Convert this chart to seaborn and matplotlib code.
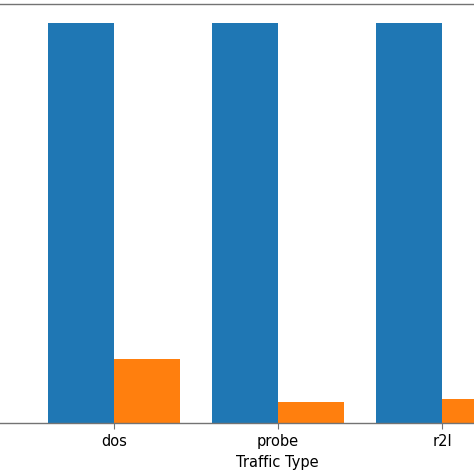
import numpy as np
import pandas as pd
import matplotlib
matplotlib.use("Agg")
import matplotlib.pyplot as plt
import seaborn as sns

# values (blue bars normalised to 1.0)
traffic_types = ["dos", "probe", "r2l"]
series_a = [1.0, 1.0, 1.0]
series_b = [0.160, 0.053, 0.060]
series_names = ["a", "b"]

df = pd.DataFrame({
    "Traffic Type": traffic_types * 2,
    "value": series_a + series_b,
    "series": [series_names[0]] * 3 + [series_names[1]] * 3,
})

fig = plt.figure(figsize=(4.74, 4.74), dpi=100)
# the reference is a crop: axes run past both side edges of the picture
left_px, right_px = -10, 524
ax_h = 419.8
ax = fig.add_axes([left_px / 474, 50.7 / 474, (right_px - left_px) / 474, ax_h / 474])

sns.barplot(data=df, x="Traffic Type", y="value", hue="series",
            palette=["#1f77b4", "#ff7f0e"], saturation=1, linewidth=0,
            errorbar=None, ax=ax)

unit = 164.0
ax.set_xlim(-0.5 - (32 - left_px) / unit, 2.5)
ax.set_ylim(0, 1.05)
ax.set_ylabel("")
ax.set_yticks([])
ax.set_xlabel("Traffic Type", fontsize=10.5)
ax.xaxis.set_label_coords((277 - left_px) / (right_px - left_px), -32.0 / ax_h)
ax.xaxis.label.set_va("top")
ax.tick_params(axis="x", labelsize=10.5, color="0.45", length=4.5)
ax.legend_.remove()

ax.spines["left"].set_visible(False)
for s in ["top", "bottom", "right"]:
    ax.spines[s].set_color("0.45")
    ax.spines[s].set_linewidth(1.0)

fig.savefig("out.png", dpi=100)
